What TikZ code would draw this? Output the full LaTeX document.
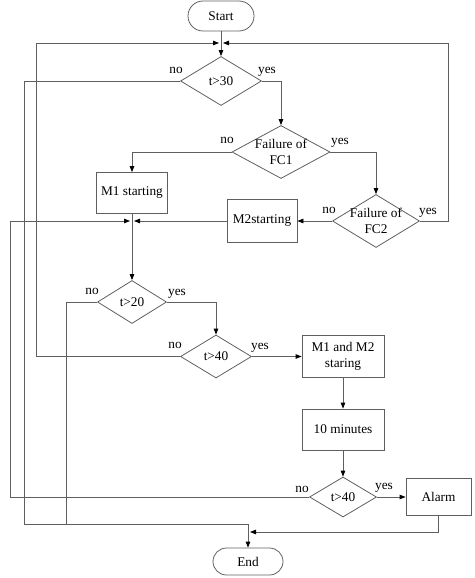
\documentclass[tikz,border=0pt]{standalone}
\usepackage{fontspec}
\setmainfont{Liberation Serif}
\usetikzlibrary{shapes.geometric,shapes.misc,arrows.meta}
\definecolor{ln}{RGB}{95,95,95}
\begin{document}
\begin{tikzpicture}[x=1pt,y=-1pt,
  every node/.style={font=\fontsize{13.3}{16}\selectfont, text=black},
  box/.style={draw=ln, line width=0.8pt, rectangle, inner sep=0pt, align=center},
  term/.style={draw=ln, line width=0.8pt, rounded rectangle, inner sep=0pt},
  dia/.style={draw=ln, line width=0.8pt, diamond, inner sep=0pt},
  dtext/.style={align=center, inner sep=0pt},
  lab/.style={anchor=base, inner sep=0pt},
  con/.style={draw=ln, line width=0.8pt},
  arr/.style={con, -{Triangle[length=6pt,width=4.5pt,color=black]}},
]
\useasboundingbox (0,0) rectangle (474,578);

% nodes
\node[term, minimum width=66pt, minimum height=30pt] (start) at (221,16) {Start};
\coordinate (j1) at (221,43);
\node[dia, minimum width=81pt, minimum height=49pt, label={[dtext]center:t>30}] (t30) at (221,81) {};
\node[dia, minimum width=98pt, minimum height=53pt, label={[dtext]center:Failure of\\FC1}] (fc1) at (281,152) {};
\node[box, minimum width=71pt, minimum height=41pt] (m1) at (132,193) {M1 starting};
\node[dia, minimum width=87pt, minimum height=53pt, label={[dtext]center:Failure of\\FC2}] (fc2) at (376,221) {};
\node[box, minimum width=70pt, minimum height=43pt] (m2) at (262,221) {M2starting};
\coordinate (j2) at (132,221);
\node[dia, minimum width=69pt, minimum height=43pt, label={[dtext]center:t>20}] (t20) at (132,302) {};
\node[dia, minimum width=71pt, minimum height=43pt, label={[dtext]center:t>40}] (t40a) at (216,356.5) {};
\node[box, minimum width=82pt, minimum height=42pt] (m12) at (343,356.5) {M1 and M2\\staring};
\node[box, minimum width=82pt, minimum height=41pt] (ten) at (343,429.5) {10 minutes};
\node[dia, minimum width=67pt, minimum height=40pt, label={[dtext]center:t>40}] (t40b) at (343,497) {};
\node[box, minimum width=65pt, minimum height=37pt] (alarm) at (438.5,497) {Alarm};
\coordinate (j3) at (248,524);
\coordinate (j4) at (248,532);
\node[term, minimum width=70pt, minimum height=27pt] (end) at (248,561.5) {End};

% labels
\node[lab] (n1) at (176,74) {no};
\node[lab] (y1) at (267,74) {yes};
\node[lab] (n2) at (227,143) {no};
\node[lab] (y2) at (340,144) {yes};
\node[lab] (n3) at (329,213) {no};
\node[lab] (y3) at (428,214) {yes};
\node[lab] (n4) at (92,294) {no};
\node[lab] (y4) at (177,295) {yes};
\node[lab] (n5) at (175,348) {no};
\node[lab] (y5) at (260,349) {yes};
\node[lab] (n6) at (302,492) {no};
\node[lab] (y6) at (384,489) {yes};

% connectors
\draw[con] (start) -- (j1);
\draw[arr] (j1) -- (t30.north);
\draw[arr] (t30.east) -| (fc1.north);
\draw[con] (t30.west) -- (24,81) -- (24,524) -- (j3);
\draw[arr] (fc1.west) -| (m1.north);
\draw[arr] (fc1.east) -| (fc2.north);
\draw[arr] (fc2.west) -- (m2.east);
\draw[arr, shorten >=2pt] (fc2.east) -- (448,221) -- (448,43) -- (j1);
\draw[arr, shorten >=2pt] (m2.west) -- (j2);
\draw[con] (m1.south) -- (j2);
\draw[arr] (j2) -- (t20.north);
\draw[arr] (t20.east) -| (t40a.north);
\draw[con] (t20.west) -- (66,302) -- (66,524) -- (j3);
\draw[arr, shorten >=2pt] (t40a.west) -- (36,356.5) -- (36,43) -- (j1);
\draw[arr] (t40a.east) -- (m12.west);
\draw[arr] (m12.south) -- (ten.north);
\draw[arr] (ten.south) -- (t40b.north);
\draw[arr] (t40b.east) -- (alarm.west);
\draw[arr, shorten >=2pt] (t40b.west) -- (10,497) -- (10,221) -- (j2);
\draw[arr, shorten >=2pt] (alarm.south) -- (438.5,532) -- (j4);
\draw[arr] (j3) -- (end.north);
\end{tikzpicture}
\end{document}
